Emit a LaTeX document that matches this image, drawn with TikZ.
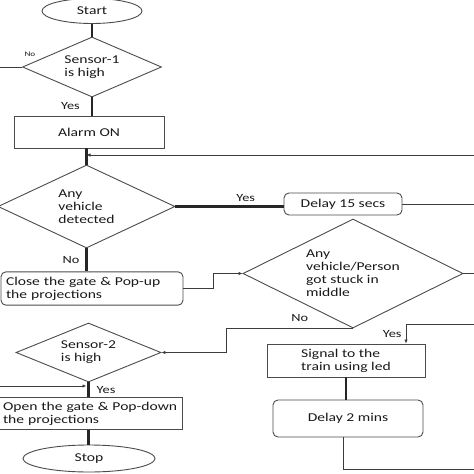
\documentclass[tikz,border=0pt]{standalone}
\usepackage{fontspec}
\setmainfont{Carlito}[FakeStretch=1.3]
\usetikzlibrary{arrows.meta,positioning,shapes.geometric}
\definecolor{boxgray}{RGB}{75,75,75}
\definecolor{linegray}{RGB}{60,60,60}
\definecolor{txtgray}{RGB}{25,25,25}
\tikzset{
  flow/.style={font=\fontsize{12}{13}\selectfont, text=txtgray, draw=boxgray, line width=0.9pt},
  blk/.style={flow, rectangle, inner sep=4pt},
  rblk/.style={blk, rounded corners=5pt},
  term/.style={flow, ellipse, inner sep=0pt},
  dec/.style={flow, diamond, aspect=2, inner sep=0pt, align=left},
  thk/.style={black!85, line width=2.4pt},
  thn/.style={linegray, line width=0.9pt},
  arr/.style={thn, -{Latex[length=4pt,width=3.5pt]}},
  lbl/.style={font=\fontsize{11}{12}\selectfont, text=txtgray, inner sep=1pt},
}
\begin{document}
\begin{tikzpicture}[x=1pt,y=-1pt]
\clip (0,0) rectangle (474,474);
\node[term, minimum width=100pt, minimum height=25pt] (start) at (92,11) {Start};
\node[dec, minimum width=139pt, minimum height=60pt] (s1) at (92,67) {Sensor-1\\is high};
\node[blk, minimum width=150pt, minimum height=32pt] (alarm) at (89,132) {Alarm ON};
\node[dec, minimum width=177pt, minimum height=83pt] (veh) at (86.5,206.5) {Any\\vehicle\\detected};
\node[rblk, minimum width=118pt, minimum height=22pt, inner sep=2pt] (d15) at (343,204) {Delay 15 secs};
\node[rblk, text width=172pt, align=left, minimum height=33pt, inner sep=5pt] (close) at (92,288.5)
  {Close the gate \& Pop-up\\the projections};
\node[dec, minimum width=220pt, minimum height=109pt] (stuck) at (353,273.5)
  {Any\\vehicle/Person\\got stuck in\\middle};
\node[blk, minimum width=158pt, minimum height=33pt, align=left] (sig) at (346,360.5)
  {Signal to the\\train using led};
\node[rblk, minimum width=150pt, minimum height=37pt] (d2) at (348,418.5) {Delay 2 mins};
\node[dec, minimum width=145pt, minimum height=59pt] (s2) at (88.5,352.5) {Sensor-2\\is high};
\node[blk, text width=175pt, align=left, minimum height=29pt] (open) at (90.5,413.5)
  {Open the gate \& Pop-down\\the projections};
\node[term, minimum width=132pt, minimum height=27pt] (stop) at (89,458.5) {Stop};

\coordinate (l1) at (0,67);
\coordinate (l2) at (0,386);
\coordinate (r1) at (474,155);
\coordinate (r2) at (474,204);
\coordinate (r3) at (474,273.5);
\coordinate (r4) at (474,324);
\coordinate (r5) at (474,469);
\coordinate (j1) at (veh.north |- r1);

\draw[thk] (start.south) -- (s1.north);
\draw[thn] (s1.west) node[lbl, font=\fontsize{7}{8}\selectfont, above right=9pt and 1pt] {No} -- (l1);
\draw[thk] (s1.south) -- (s1.south |- alarm.north) node[lbl, midway, left=10pt] {Yes};
\draw[thk] (veh.north |- alarm.south) -- (veh.north);
\draw[arr] (r1) -- (j1);
\draw[thk] (veh.east) -- (veh.east -| d15.west) node[lbl, pos=0.65, above=3pt] {Yes};
\draw[thn] (d15.east) -- (r2);
\draw[thk] (veh.south) -- (veh.south |- close.north) node[lbl, midway, left=5pt] {No};
\draw[arr] (close.east) -- ++(30,0) |- (stuck.west);
\draw[thn] (stuck.east) -- (r3);
\draw[arr] (stuck.south) -- ++(-127,0) node[lbl, pos=0.42, above=5pt] {No} |- (s2.east);
\draw[arr] (r4) -| ([xshift=60pt]sig.north) node[lbl, pos=0.75, left=3pt] {Yes};
\draw[thk] (sig.south) -- (sig.south |- d2.north);
\draw[thn] ([xshift=-5pt]d2.south) |- (r5);
\draw[thk] (s2.south) -- (s2.south |- open.north) node[lbl, midway, right=6pt] {Yes};
\draw[arr, shorten >=2pt] (l2) -- (l2 -| s2.south);
\draw[thk] (s2.south |- open.south) -- (s2.south |- stop.north);
\end{tikzpicture}
\end{document}
